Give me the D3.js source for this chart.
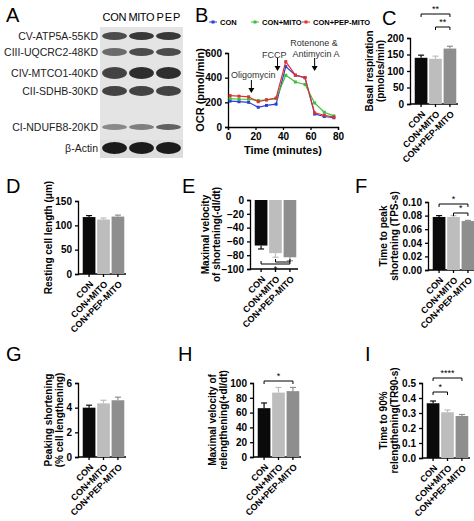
<!DOCTYPE html><html><head><meta charset="utf-8"><script src="https://cdn.jsdelivr.net/npm/d3@7"></script>
<style>body{margin:0;background:#fff}text{font-family:Arial,"Liberation Sans",sans-serif}</style></head><body>
<svg id="s" width="474" height="521"></svg>
<script>
const groups=["CON","CON+MITO","CON+PEP-MITO"];
const barColors=["#0a0a0a","#bdbdbd","#8e8e8e"];
const blotLabels=["CV-ATP5A-55KD","CIII-UQCRC2-48KD","CIV-MTCO1-40KD","CII-SDHB-30KD","CI-NDUFB8-20KD","β-Actin"];
const blotCols=["CON","MITO","PEP"];
const times=[1.5,8,15,22,28,35,42,49,56,63,70,77];
const ocrCON=[210,205,200,160,175,185,490,420,400,105,85,75];
const ocrMITO=[230,225,225,215,220,230,420,365,345,195,120,90];
const ocrPEP=[255,250,245,205,220,235,530,420,400,115,95,80];
const basal=[140,137,168], basalErr=[8,8,7];
const restLen=[117,112,118], restErr=[3,3,3];
const maxShort=[-66,-77,-83], maxShortErr=[5,6,5];
const ttp=[0.078,0.078,0.072], ttpErr=[0.002,0.002,0.001];
const peakShort=[4.0,4.35,4.6], peakErr=[0.2,0.25,0.25];
const maxRel=[66,87,89], maxRelErr=[7,7,5];
const tr90=[0.365,0.305,0.28], tr90Err=[0.015,0.015,0.01];
const svg=d3.select("#s");
function letter(t,x,y){svg.append("text").attr("x",x).attr("y",y).attr("font-size",20).text(t);}
letter("A",6,22);
const bl=svg.append("g");
bl.append("rect").attr("x",100).attr("y",27).attr("width",83).attr("height",113).attr("fill","#e4e4e4");
bl.append("rect").attr("x",100).attr("y",140).attr("width",83).attr("height",18).attr("fill","#dcdcdc");
const bandY=[36,52,73,91,127,148],bandH=[4,4,6,5,3,6],bandA=[[.75,.85,.85],[.6,.75,.75],[.8,.9,.9],[.8,.8,.8],[.45,.5,.65],[1,1,1]];
const bx=d3.scaleBand().domain(blotCols).range([100,183]).padding(0.08);
blotLabels.forEach((l,i)=>{
 bl.append("text").attr("x",98).attr("y",bandY[i]+4).attr("text-anchor","end").attr("font-size",10.5).attr("fill","#222").text(l);
 blotCols.forEach((c,j)=>bl.append("ellipse").attr("cx",bx(c)+bx.bandwidth()/2).attr("cy",bandY[i]).attr("rx",bx.bandwidth()/2).attr("ry",bandH[i]).attr("fill","#1a1a1a").attr("opacity",bandA[i][j]));
});
blotCols.forEach(c=>bl.append("text").attr("x",bx(c)+bx.bandwidth()/2).attr("y",21).attr("text-anchor","middle").attr("font-size",11).attr("textLength",c.length>3?26:24).text(c));
letter("B",195,22);
{const x=d3.scaleLinear().domain([0,80]).range([228,338]),y=d3.scaleLinear().domain([0,600]).range([127,53]);
const g=svg.append("g");
g.append("g").attr("transform","translate(0,127)").call(d3.axisBottom(x).tickValues([0,20,40,60,80]).tickSize(3)).call(a=>a.selectAll("text").attr("font-size",10).attr("font-weight","bold"));
g.append("g").attr("transform","translate(228,0)").call(d3.axisLeft(y).tickValues([0,200,400,600]).tickSize(3)).call(a=>a.selectAll("text").attr("font-size",10).attr("font-weight","bold"));
g.selectAll(".domain,line").attr("stroke","#000").attr("stroke-width",1.3);
g.append("text").attr("x",283).attr("y",154).attr("text-anchor","middle").attr("font-size",11).attr("font-weight","bold").text("Time (minutes)");
g.append("text").attr("transform","translate(204,90) rotate(-90)").attr("text-anchor","middle").attr("font-size",11).attr("font-weight","bold").text("OCR (pmol/min)");
const ser=[[ocrCON,"#2a3fd6"],[ocrMITO,"#3cbf3c"],[ocrPEP,"#e03030"]];
ser.forEach(([v,c])=>{g.append("path").datum(v).attr("fill","none").attr("stroke",c).attr("stroke-width",1.2).attr("d",d3.line().x((d,i)=>x(times[i])).y(d=>y(d)));
 g.selectAll(null).data(v).enter().append("rect").attr("x",(d,i)=>x(times[i])-1.5).attr("y",d=>y(d)-1.5).attr("width",3).attr("height",3).attr("fill",c);});
[[17,"Oligomycin",92,231,78],[36,"FCCP",70,262,58],[63,"",70,0,0]].forEach(([t,l,yt,lx,ly])=>{
 g.append("line").attr("x1",x(t)).attr("x2",x(t)).attr("y1",yt-12).attr("y2",yt).attr("stroke","#000");
 g.append("path").attr("d",`M${x(t)-3},${yt-4}L${x(t)+3},${yt-4}L${x(t)},${yt+1}Z`);
 if(l)g.append("text").attr("x",lx).attr("y",ly).attr("font-size",9).attr("fill","#333").text(l);});
g.append("text").attr("x",314).attr("y",46).attr("text-anchor","middle").attr("font-size",9).attr("fill","#333").text("Rotenone &");
g.append("text").attr("x",316).attr("y",57).attr("text-anchor","middle").attr("font-size",9).attr("fill","#333").text("Antimycin A");
const lg=[["CON",215],["CON+MITO",257],["CON+PEP-MITO",308]];
lg.forEach(([t,lx],i)=>{g.append("line").attr("x1",lx-6).attr("x2",lx+2).attr("y1",22).attr("y2",22).attr("stroke",ser[i][1]);
 g.append("rect").attr("x",lx-3.5).attr("y",20.5).attr("width",3).attr("height",3).attr("fill",ser[i][1]);
 g.append("text").attr("x",lx+5).attr("y",25).attr("font-size",7.5).attr("font-weight","bold").text(t);});}
function barPanel(o){
 const g=svg.append("g");
 const x=d3.scaleBand().domain(groups).range([o.x0+3,o.x0+48]).padding(0.12);
 const y=d3.scaleLinear().domain(o.dom).range([o.yb,o.yt]);
 const yax=g.append("g").attr("transform",`translate(${o.x0},0)`).call(d3.axisLeft(y).tickValues(o.ticks).tickSize(3).tickFormat(o.fmt||d3.format("d")));
 yax.selectAll("text").attr("font-size",10).attr("font-weight","bold");
 yax.selectAll(".domain,line").attr("stroke","#000").attr("stroke-width",1.3);
 const base=y(0);
 const xax=g.append("g").attr("transform",`translate(0,${o.xaxisY||base})`).call(d3.axisBottom(x).tickSize(3).tickSizeOuter(0));
 xax.select(".domain").attr("d",`M${o.x0},0H${o.x0+48}`);
 xax.selectAll(".domain,line").attr("stroke","#000").attr("stroke-width",1.3);
 xax.selectAll("text").attr("font-size",9).attr("font-weight","bold").attr("text-anchor","end").attr("transform","translate(-4,2) rotate(-45)");
 o.v.forEach((d,i)=>{const cx=x(groups[i])+x.bandwidth()/2;
  g.append("rect").attr("x",x(groups[i])).attr("width",x.bandwidth()).attr("y",Math.min(y(d),base)).attr("height",Math.abs(y(d)-base)).attr("fill",barColors[i]);
  const e=d<0?d-o.e[i]:d+o.e[i];
  g.append("line").attr("x1",cx).attr("x2",cx).attr("y1",y(d)).attr("y2",y(e)).attr("stroke",barColors[i]).attr("stroke-width",1.2);
  g.append("line").attr("x1",cx-3).attr("x2",cx+3).attr("y1",y(e)).attr("y2",y(e)).attr("stroke",barColors[i]).attr("stroke-width",1.2);});
 (o.sig||[]).forEach(([a,b,yy,s])=>{const xa=x(groups[a])+x.bandwidth()/2,xb=x(groups[b])+x.bandwidth()/2,d=o.down?-3:3;
  g.append("path").attr("d",`M${xa},${yy+d}V${yy}H${xb}V${yy+d}`).attr("fill","none").attr("stroke","#000");
  g.append("text").attr("x",(xa+xb)/2).attr("y",o.down?yy+8:yy-2).attr("text-anchor","middle").attr("font-size",9).text(s);});
 const lx=o.x0-(o.lw||26);
 o.label.forEach((l,i)=>g.append("text").attr("transform",`translate(${lx+i*11-(o.label.length-1)*11},${(o.yb+o.yt)/2}) rotate(-90)`).attr("text-anchor","middle").attr("font-size",10).attr("font-weight","bold").text(l));
}
letter("C",382,25);
barPanel({x0:410,yb:104,yt:38,dom:[0,200],ticks:[0,50,100,150,200],v:basal,e:basalErr,label:["Basal respiration","(pmoles/min)"],sig:[[0,2,14,"**"],[1,2,27,"**"]]});
letter("D",6,193);
barPanel({x0:78,yb:274,yt:201,dom:[0,150],ticks:[0,50,100,150],v:restLen,e:restErr,label:["Resting cell length (μm)"]});
letter("E",182,193);
barPanel({x0:250,yb:269,yt:200,dom:[-100,0],ticks:[0,-20,-40,-60,-80,-100],v:maxShort,e:maxShortErr,label:["Maximal velocity","of shortening(-dl/dt)"],lw:30,xaxisY:269,down:true,sig:[[0,2,264,"*"],[1,2,262,""]]});
letter("F",355,193);
barPanel({x0:428,yb:270,yt:202,dom:[0,0.1],ticks:[0,0.02,0.04,0.06,0.08,0.1],fmt:d3.format(".2f"),v:ttp,e:ttpErr,label:["Time to peak","shortening (TPS-s)"],lw:30,sig:[[0,2,204,"*"],[1,2,213,"*"]]});
letter("G",6,361);
barPanel({x0:78,yb:457,yt:383,dom:[0,6],ticks:[0,2,4,6],v:peakShort,e:peakErr,label:["Peaking shortening","(% cell lengthening)"],lw:15});
letter("H",178,361);
barPanel({x0:253,yb:457,yt:383,dom:[0,100],ticks:[0,20,40,60,80,100],v:maxRel,e:maxRelErr,label:["Maximal velocity of","relengthening(+dl/dt)"],sig:[[0,2,381,"*"]]});
letter("I",365,361);
barPanel({x0:422,yb:458,yt:383,dom:[0,0.5],ticks:[0,0.1,0.2,0.3,0.4,0.5],fmt:d3.format(".1f"),v:tr90,e:tr90Err,label:["Time to 90%","relengthening(TR90-s)"],lw:24,sig:[[0,1,392,"*"],[0,2,378,"****"]]});
</script></body></html>
